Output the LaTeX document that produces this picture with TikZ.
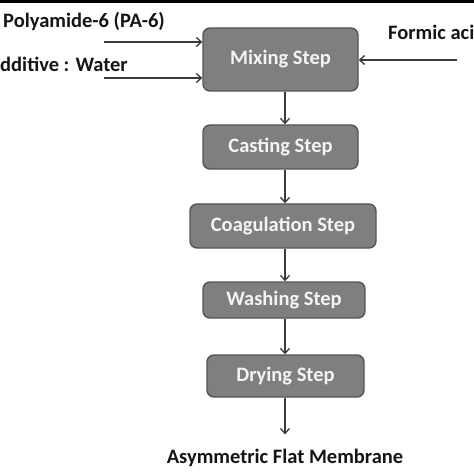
\documentclass[tikz,border=0pt]{standalone}
\usepackage{fontspec}
\setmainfont{Carlito}
\usetikzlibrary{arrows.meta,backgrounds}
\definecolor{boxfill}{HTML}{7F7F7F}
\definecolor{boxline}{HTML}{555555}
\definecolor{arrcol}{HTML}{3A3A3A}
\definecolor{boxtext}{HTML}{F4F4F4}
\definecolor{labtext}{HTML}{151515}
\begin{document}
\begin{tikzpicture}[x=1bp,y=-1bp,
  stepbox/.style={draw=boxline,fill=boxfill,line width=1.4bp,rounded corners=7bp,
    text=boxtext,font=\fontsize{20.5bp}{24bp}\selectfont\bfseries,inner sep=0pt},
  lab/.style={text=labtext,font=\fontsize{20.5bp}{24bp}\selectfont\bfseries,inner sep=0pt},
  arr/.style={draw=arrcol,line width=1.3bp,-{Straight Barb[length=5bp,width=9bp,line width=1.3bp]}}]
\useasboundingbox (0,0) rectangle (474,474);
\fill[white] (0,0) rectangle (474,474);
\fill[black] (0,0) rectangle (474,3);
% boxes
\node[stepbox,minimum width=155bp,minimum height=63bp] (mix) at (280.5,59.5) {Mixing Step};
\node[stepbox,minimum width=155bp,minimum height=44bp] (cast) at (280.5,147) {Casting Step};
\node[stepbox,minimum width=186bp,minimum height=44bp] (coag) at (283,226) {Coagulation Step};
\node[stepbox,minimum width=162bp,minimum height=36bp] (wash) at (284,300) {Washing Step};
\node[stepbox,minimum width=157bp,minimum height=42bp] (dry) at (285.5,376) {Drying Step};
% glow
\begin{scope}[on background layer]
\foreach \n in {mix,cast,coag,wash,dry}{
  \foreach \d in {10,8,6,4,2}{
    \fill[black,opacity=0.05,rounded corners=9bp]
      ([shift={(-\d+1,-\d+1)}]\n.north west) rectangle ([shift={(\d+1,\d+1)}]\n.south east);
  }
}
\end{scope}
% labels
\node[lab,anchor=base west] (pa) at (3,28) {Polyamide-6 (PA-6)};
\node[lab,anchor=base west] (wat) at (0,72) {dditive : Water};
\node[lab,anchor=base west] (fa) at (388,40) {Formic aci};
\node[lab,anchor=base] (mem) at (285,463) {Asymmetric Flat Membrane};
% free ends
\coordinate (paend) at (104,42);
\coordinate (watend) at (104,78);
\coordinate (faend) at (457,60);
\coordinate (spine) at (285,0);
\coordinate (memtop) at ([yshift=14bp]mem.north);
% connectors
\draw[arr] (paend) -- (paend -| mix.west);
\draw[arr] (watend) -- (watend -| mix.west);
\draw[arr] (faend) -- (faend -| mix.east);
\draw[arr] (spine |- mix.south) -- (spine |- cast.north);
\draw[arr] (spine |- cast.south) -- (spine |- coag.north);
\draw[arr] (spine |- coag.south) -- (spine |- wash.north);
\draw[arr] (spine |- wash.south) -- (spine |- dry.north);
\draw[arr] (spine |- dry.south) -- (spine |- memtop);
\end{tikzpicture}
\end{document}
